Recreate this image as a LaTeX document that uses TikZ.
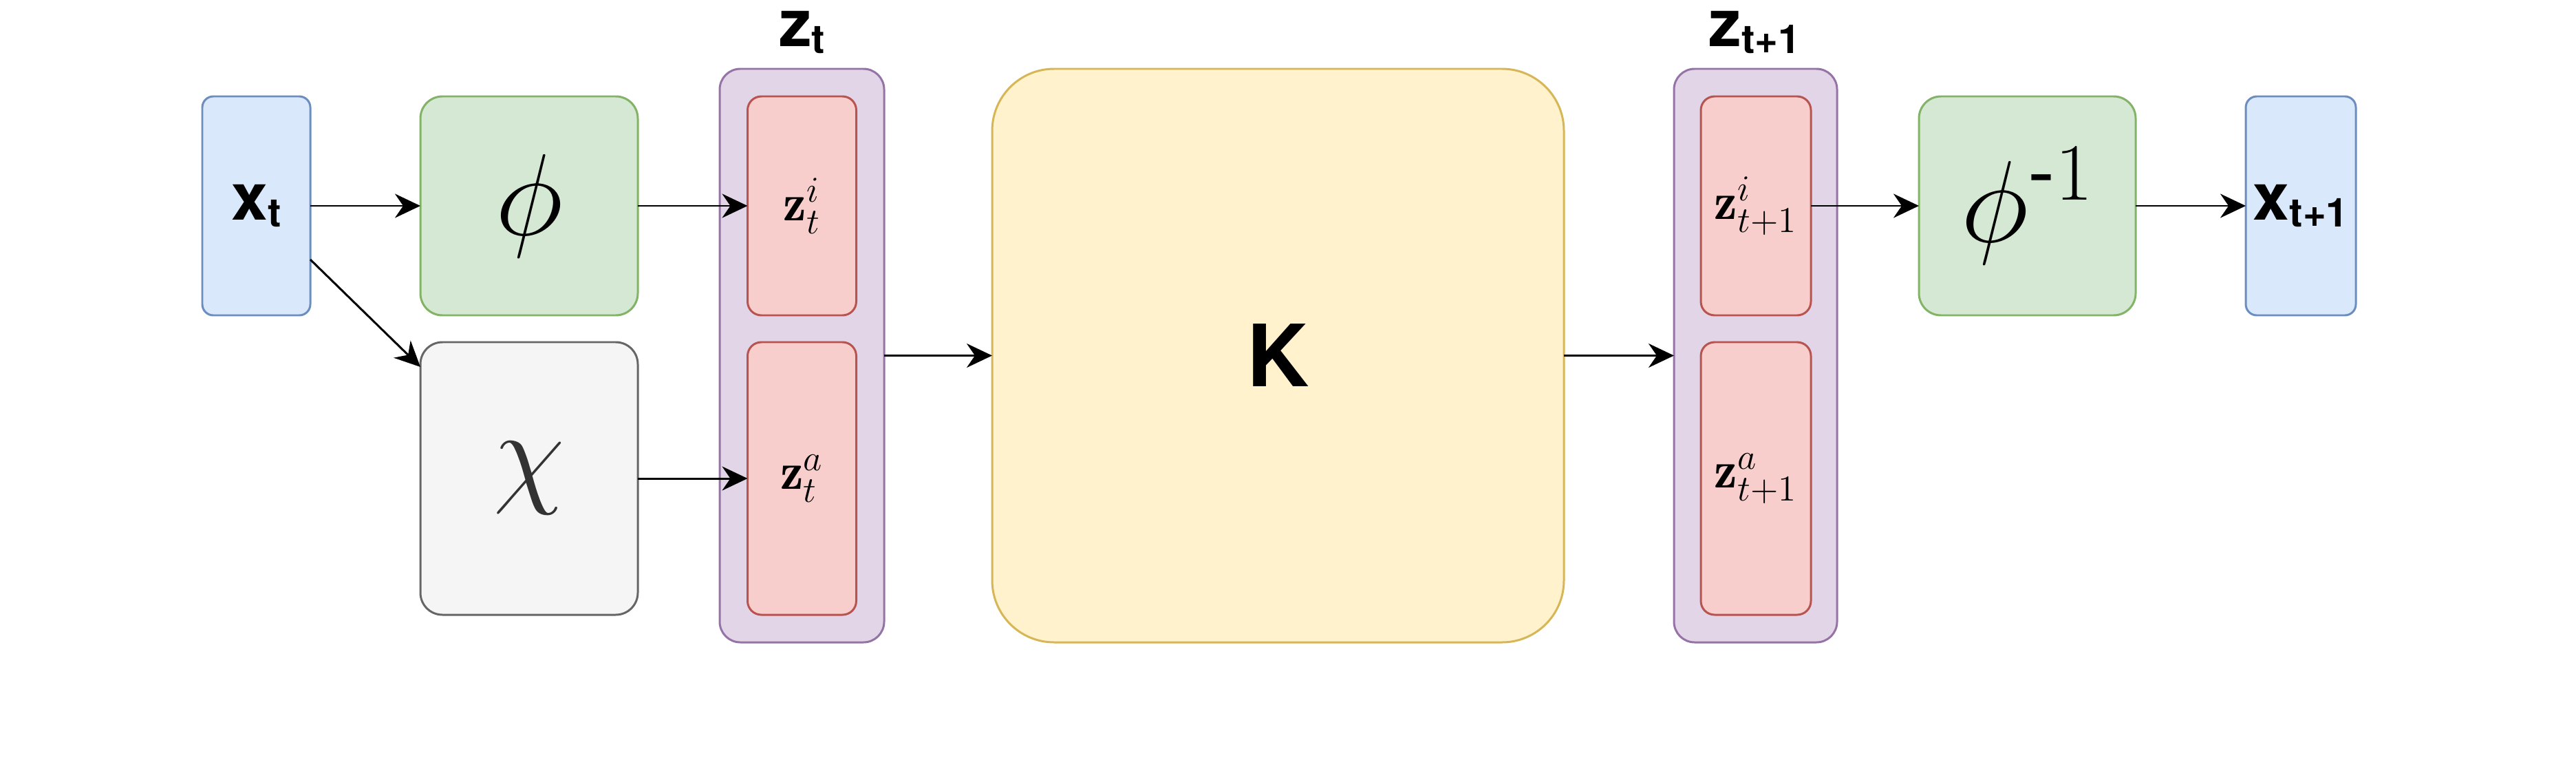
\RequirePackage{fix-cm}
\documentclass[tikz,border=0pt]{standalone}
\usepackage{amsmath}
\usepackage{fontspec}
\setsansfont{TeX Gyre Heros}
\usetikzlibrary{arrows.meta}
\definecolor{bluefill}{HTML}{DAE8FC}\definecolor{bluedraw}{HTML}{6C8EBF}
\definecolor{greenfill}{HTML}{D5E8D4}\definecolor{greendraw}{HTML}{82B366}
\definecolor{greyfill}{HTML}{F5F5F5}\definecolor{greydraw}{HTML}{666666}
\definecolor{greytext}{HTML}{333333}
\definecolor{purplefill}{HTML}{E1D5E7}\definecolor{purpledraw}{HTML}{9673A6}
\definecolor{redfill}{HTML}{F8CECC}\definecolor{reddraw}{HTML}{B85450}
\definecolor{yellowfill}{HTML}{FFF2CC}\definecolor{yellowdraw}{HTML}{D6B656}
% bold sans letter with a lowered subscript
\newcommand{\bsub}[2]{{\fontsize{27}{30}\selectfont\sffamily\bfseries #1\raisebox{-3pt}{\fontsize{16.5}{20}\selectfont #2}}}
\begin{document}
\begin{tikzpicture}[every node/.style={inner sep=0pt,outer sep=0pt},
  blk/.style={draw,line width=0.85pt,rounded corners=#1},
  flow/.style={-{Stealth[length=0.37cm,width=0.35cm,inset=0.12cm]},line width=0.85pt},
  bigmath/.style={font=\fontsize{48}{52}\selectfont},
  smallmath/.style={font=\fontsize{21.5}{24}\selectfont}]
\useasboundingbox (0,0) rectangle (37.44,11.16);
% input side
\node[blk=0.16cm,fill=bluefill,draw=bluedraw,minimum width=1.57cm,minimum height=3.18cm] (xt) at (3.725,8.17) {\bsub{x}{t}};
\node[blk=0.32cm,fill=greenfill,draw=greendraw,minimum width=3.16cm,minimum height=3.18cm,bigmath] (phi) at (7.69,8.17) {$\phi$};
\node[blk=0.32cm,fill=greyfill,draw=greydraw,minimum width=3.16cm,minimum height=3.96cm,bigmath,text=greytext] (chi) at (7.69,4.21) {$\chi$};
% latent state at t
\node[blk=0.3cm,fill=purplefill,draw=purpledraw,minimum width=2.39cm,minimum height=8.33cm] (zt) at (11.655,5.995) {};
\node[blk=0.2cm,fill=redfill,draw=reddraw,minimum width=1.58cm,minimum height=3.18cm,smallmath] (zti) at (11.655,8.17) {$\mathbf{z}_t^i$};
\node[blk=0.2cm,fill=redfill,draw=reddraw,minimum width=1.58cm,minimum height=3.96cm,smallmath] (zta) at (11.655,4.21) {$\mathbf{z}_t^a$};
\node (ztlab) at (11.655,10.69) {\bsub{z}{t}};
% operator
\node[blk=0.9cm,fill=yellowfill,draw=yellowdraw,minimum width=8.31cm,minimum height=8.33cm,font=\fontsize{35.5}{40}\selectfont\sffamily\bfseries] (K) at (18.575,5.995) {K};
% latent state at t+1
\node[blk=0.3cm,fill=purplefill,draw=purpledraw,minimum width=2.37cm,minimum height=8.33cm] (zn) at (25.515,5.995) {};
\node[blk=0.2cm,fill=redfill,draw=reddraw,minimum width=1.6cm,minimum height=3.18cm,smallmath] (zni) at (25.52,8.17) {$\mathbf{z}_{t+1}^i$};
\node[blk=0.2cm,fill=redfill,draw=reddraw,minimum width=1.6cm,minimum height=3.96cm,smallmath] (zna) at (25.52,4.21) {$\mathbf{z}_{t+1}^a$};
\node (znlab) at (25.5,10.69) {\bsub{z}{t+1}};
% output side
\node[blk=0.32cm,fill=greenfill,draw=greendraw,minimum width=3.15cm,minimum height=3.18cm,bigmath] (phiinv) at (29.465,8.17) {$\phi^{\text{\sffamily -}1}$};
\node[blk=0.16cm,fill=bluefill,draw=bluedraw,minimum width=1.6cm,minimum height=3.18cm] (xn) at (33.44,8.17) {\bsub{x}{t+1}};
% connectors
\draw[flow] (xt) -- (phi);
\draw[flow] ([yshift=-0.78cm]xt.east) -- ([yshift=-0.36cm]chi.north west);
\draw[flow] (phi) -- (zti);
\draw[flow] (chi) -- (zta);
\draw[flow] (zt) -- (K);
\draw[flow] (K) -- (zn);
\draw[flow] (zni) -- (phiinv);
\draw[flow] (phiinv) -- (xn);
\end{tikzpicture}
\end{document}
